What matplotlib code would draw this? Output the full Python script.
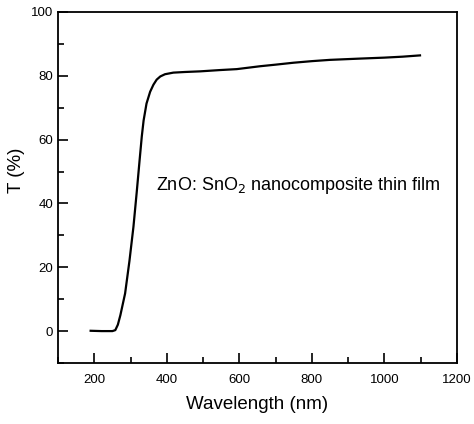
import matplotlib
matplotlib.use('Agg')
import matplotlib.pyplot as plt
from matplotlib.ticker import MultipleLocator

plt.rcParams['font.family'] = ['Liberation Sans', 'DejaVu Sans']

wavelength = [190, 220, 250, 258, 265, 272, 285, 297, 308, 317, 325, 331, 336, 344,
              354, 363, 372, 382, 395, 418, 450, 492, 546, 593, 657, 700, 749,
              800, 850, 933, 1000, 1050, 1098]
trans = [0.1, 0.0, 0.0, 0.3, 2.0, 5.0, 11.8, 22.0, 32.7, 43.5, 53.6, 61.0, 66.0,
         71.3, 75.0, 77.2, 78.8, 79.8, 80.5, 81.0, 81.2, 81.4, 81.8, 82.1, 83.0,
         83.5, 84.1, 84.6, 85.0, 85.4, 85.7, 86.0, 86.4]

fig = plt.figure(figsize=(4.74, 4.24), dpi=100)
ax = fig.add_axes([58/474, 1 - 363/424, (457-58)/474, (363-12)/424])
ax.plot(wavelength, trans, color='black', lw=1.6)

ax.set_xlim(100, 1200)
ax.set_ylim(-10, 100)
ax.xaxis.set_major_locator(MultipleLocator(200))
ax.xaxis.set_minor_locator(MultipleLocator(100))
ax.yaxis.set_major_locator(MultipleLocator(20))
ax.yaxis.set_minor_locator(MultipleLocator(10))
ax.tick_params(which='both', direction='in', labelsize=9.5, width=1.2)
ax.tick_params(which='major', length=7)
ax.tick_params(which='minor', length=4)
ax.tick_params(axis='x', which='major', pad=8)
ax.set_xticks([200, 400, 600, 800, 1000, 1200])
ax.set_yticks([0, 20, 40, 60, 80, 100])
for s in ax.spines.values():
    s.set_linewidth(1.3)

ax.set_xlabel('Wavelength (nm)', fontsize=13.5, labelpad=7)
ax.set_ylabel('T (%)', fontsize=13.5)
ax.yaxis.set_label_coords(-0.083, 0.55)
ax.text(0.96, 0.505, 'ZnO: SnO$_2$ nanocomposite thin film', transform=ax.transAxes,
        ha='right', va='center', fontsize=13)

fig.savefig('out.png', dpi=100)
